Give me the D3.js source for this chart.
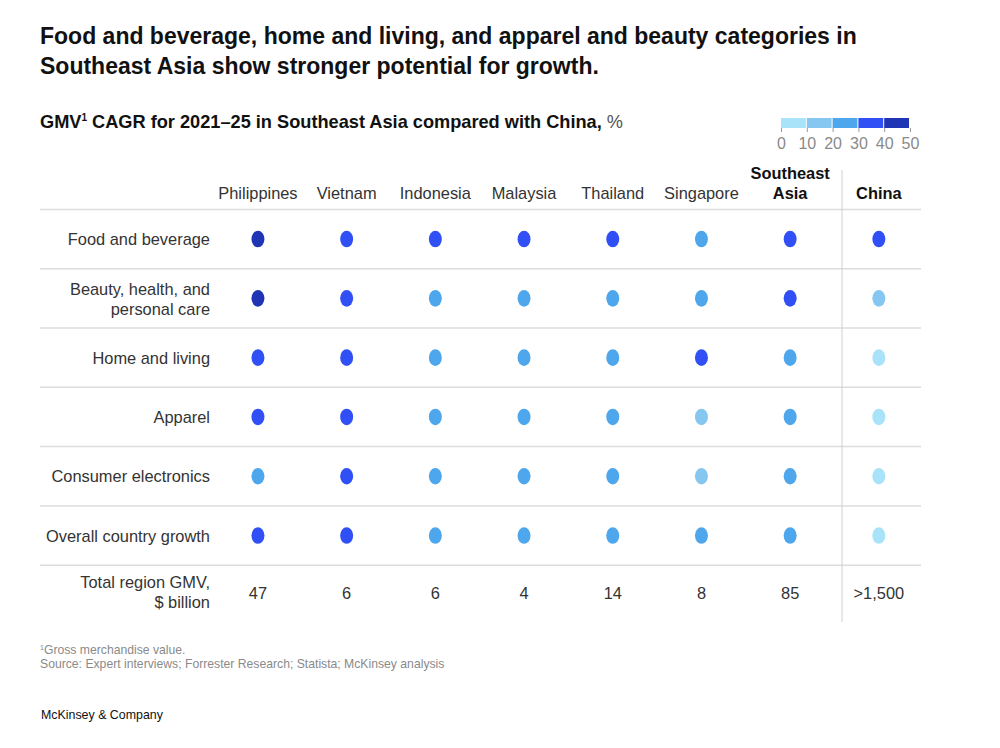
<!DOCTYPE html>
<html><head><meta charset="utf-8">
<script src="https://cdn.jsdelivr.net/npm/d3@7"></script>
<style>body{margin:0;background:#fff;} text{font-family:"Liberation Sans",Arial,sans-serif;}</style>
</head><body><svg id="chart" width="1000" height="748"></svg>
<script>
const columns = ["Philippines","Vietnam","Indonesia","Malaysia","Thailand","Singapore","Southeast Asia","China"];
const categories = ["Food and beverage","Beauty, health, and personal care","Home and living","Apparel","Consumer electronics","Overall country growth"];
// GMV CAGR 2021–25, % (estimated within colour bins)
const foodBeverage   = [45,35,35,35,35,25,35,32];
const beautyHealth   = [45,35,25,25,25,25,35,15];
const homeLiving     = [35,35,25,25,25,35,25,5];
const apparel        = [35,35,25,25,25,15,25,5];
const electronics    = [25,35,25,25,25,15,25,5];
const overallGrowth  = [35,35,25,25,25,25,25,5];
const totalGMV = ["47","6","6","4","14","8","85",">1,500"];
const legendTicks = [0,10,20,30,40,50];
const binColors = ["#a9e3f9","#86c7f1","#4ea7ec","#3050f5","#1f35b3"];

const values = [foodBeverage,beautyHealth,homeLiving,apparel,electronics,overallGrowth];
const svg = d3.select("#chart");

// Title
svg.append("text").attr("x",40).attr("y",44).attr("font-size",23).attr("font-weight","bold").attr("fill","#111")
  .text("Food and beverage, home and living, and apparel and beauty categories in");
svg.append("text").attr("x",40).attr("y",74).attr("font-size",23).attr("font-weight","bold").attr("fill","#111")
  .text("Southeast Asia show stronger potential for growth.");

const sub = svg.append("text").attr("x",40).attr("y",128).attr("font-size",18.2).attr("fill","#111");
sub.append("tspan").attr("font-weight","bold").text("GMV");
sub.append("tspan").attr("font-weight","bold").attr("font-size",10).attr("dy",-7).text("1");
sub.append("tspan").attr("font-weight","bold").attr("dy",7).text(" CAGR for 2021–25 in Southeast Asia compared with China, ");
sub.append("tspan").attr("fill","#555").text("%");

// Legend
const color = d3.scaleThreshold().domain([10,20,30,40]).range(binColors);
const lx = d3.scaleLinear().domain([0,50]).range([781,910]);
const lg = svg.append("g");
lg.selectAll("rect").data(d3.pairs(legendTicks)).join("rect")
  .attr("x",d=>lx(d[0])).attr("width",d=>lx(d[1])-lx(d[0])-1).attr("y",118).attr("height",10)
  .attr("fill",d=>color(d[0]));
lg.append("g").attr("transform","translate(0,128)")
  .call(d3.axisBottom(lx).tickValues(legendTicks).tickSize(4).tickFormat(d3.format("d")))
  .call(g=>g.attr("font-size",16).attr("font-family","Liberation Sans, Arial, sans-serif"))
  .call(g=>g.select(".domain").remove())
  .call(g=>g.selectAll("line").attr("stroke","#999"))
  .call(g=>g.selectAll("text").attr("fill","#8a8a8a").attr("dy","0.85em"));

// Scales
const x = d3.scaleBand().domain(columns).range([213.6,923.2]);
const rowKeys = categories.concat(["total"]);
const y = d3.scaleBand().domain(rowKeys).range([209.4,624.5]);

// grid lines
svg.append("g").selectAll("line").data(rowKeys.slice(0,7)).join("line")
  .attr("x1",40).attr("x2",921)
  .attr("y1",d=>y(d)).attr("y2",d=>y(d))
  .attr("stroke","#dcdcdc").attr("stroke-width",1.5);
svg.append("line").attr("x1",842).attr("x2",842).attr("y1",170).attr("y2",622)
  .attr("stroke","#d0d0d0").attr("stroke-width",1);

const fs = 16.4;
// column headers
columns.forEach(c=>{
  const cx = x(c)+x.bandwidth()/2;
  const bold = (c==="Southeast Asia"||c==="China");
  const t = svg.append("text").attr("x",cx).attr("text-anchor","middle").attr("font-size",fs)
    .attr("fill",bold?"#111":"#333").attr("font-weight",bold?"bold":"normal");
  if (c==="Southeast Asia") {
    t.attr("y",179);
    t.append("tspan").attr("x",cx).text("Southeast");
    t.append("tspan").attr("x",cx).attr("dy",20).text("Asia");
  } else t.attr("y",199).text(c);
});

// row labels
categories.forEach(c=>{
  const cy = y(c)+y.bandwidth()/2;
  const t = svg.append("text").attr("x",210).attr("text-anchor","end").attr("font-size",fs).attr("fill","#333");
  if (c==="Beauty, health, and personal care") {
    t.attr("y",cy-3);
    t.append("tspan").attr("x",210).text("Beauty, health, and");
    t.append("tspan").attr("x",210).attr("dy",20).text("personal care");
  } else t.attr("y",cy+6).text(c);
});
const ty = y("total")+y.bandwidth()/2;
const tl = svg.append("text").attr("x",210).attr("y",ty-7).attr("text-anchor","end").attr("font-size",fs).attr("fill","#333");
tl.append("tspan").attr("x",210).text("Total region GMV,");
tl.append("tspan").attr("x",210).attr("dy",20).text("$ billion");

// dots
const cells = [];
values.forEach((row,i)=>row.forEach((v,j)=>cells.push({r:categories[i],c:columns[j],v})));
svg.append("g").selectAll("ellipse").data(cells).join("ellipse")
  .attr("cx",d=>x(d.c)+x.bandwidth()/2).attr("cy",d=>y(d.r)+y.bandwidth()/2)
  .attr("rx",6.5).attr("ry",8.3).attr("fill",d=>color(d.v));

// totals
svg.append("g").selectAll("text").data(totalGMV).join("text")
  .attr("x",(d,i)=>x(columns[i])+x.bandwidth()/2).attr("y",ty+4)
  .attr("text-anchor","middle").attr("font-size",fs).attr("fill","#333").text(d=>d);

// footnotes
const fn = svg.append("text").attr("x",40).attr("y",654).attr("font-size",12.2).attr("fill","#8a8a8a");
fn.append("tspan").attr("font-size",7).attr("dy",-4).text("1");
fn.append("tspan").attr("dy",4).text("Gross merchandise value.");
svg.append("text").attr("x",40).attr("y",668).attr("font-size",12.2).attr("fill","#8a8a8a")
  .text("Source: Expert interviews; Forrester Research; Statista; McKinsey analysis");
svg.append("text").attr("x",41).attr("y",719).attr("font-size",12.4).attr("fill","#111")
  .text("McKinsey & Company");
</script></body></html>
